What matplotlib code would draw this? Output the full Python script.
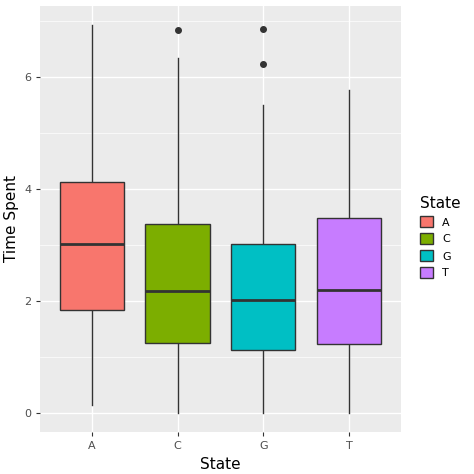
import matplotlib
matplotlib.use("Agg")
import matplotlib.pyplot as plt
from matplotlib.patches import Patch

states = ["A", "C", "G", "T"]
colors = ["#F8766D", "#7CAE00", "#00BFC4", "#C77CFF"]
whislo = [0.13, 0.0, 0.0, 0.0]
q1 = [1.84, 1.24, 1.12, 1.23]
med = [3.02, 2.17, 2.01, 2.20]
q3 = [4.12, 3.37, 3.02, 3.47]
whishi = [6.92, 6.33, 5.50, 5.76]
fliers = [[], [6.83], [6.85, 6.22], []]

fig = plt.figure(figsize=(4.74, 4.74), dpi=100)
ax = fig.add_axes([0.085, 0.088, 0.76, 0.90])
ax.set_facecolor("#EBEBEB")
stats = [dict(label=s, whislo=a, q1=b, med=c, q3=d, whishi=e, fliers=f)
         for s, a, b, c, d, e, f in zip(states, whislo, q1, med, q3, whishi, fliers)]
bp = ax.bxp(stats, positions=range(1, 5), widths=0.75, patch_artist=True, showcaps=False,
            boxprops=dict(linewidth=1.0, edgecolor="#333333"),
            whiskerprops=dict(color="#333333", linewidth=1.0),
            medianprops=dict(color="#333333", linewidth=2.0),
            flierprops=dict(marker="o", markerfacecolor="#333333", markeredgecolor="#333333", markersize=4))
for p, c in zip(bp["boxes"], colors):
    p.set_facecolor(c)
    p.set_zorder(3)
for k in ["whiskers", "medians", "fliers"]:
    for l in bp[k]:
        l.set_zorder(4 if k != "whiskers" else 2)
ax.set_xlim(0.4, 4.6)
ax.set_ylim(-0.35, 7.27)
ax.set_yticks([0, 2, 4, 6])
ax.set_yticks([1, 3, 5, 7], minor=True)
ax.grid(True, which="major", color="white", linewidth=1.0)
ax.grid(True, which="minor", axis="y", color="white", linewidth=0.5)
ax.set_axisbelow(True)
for s in ax.spines.values():
    s.set_visible(False)
ax.tick_params(colors="#333333", labelsize=8, length=3, labelcolor="#4D4D4D")
ax.tick_params(which="minor", length=0)
ax.set_xlabel("State", fontsize=11)
ax.set_ylabel("Time Spent", fontsize=11)
handles = [Patch(facecolor=c, edgecolor="#333333", label=s) for s, c in zip(states, colors)]
fig.legend(handles=handles, title="State", loc="center left", bbox_to_anchor=(0.865, 0.5),
           frameon=False, fontsize=8, title_fontsize=11, handlelength=1.2, handleheight=1.2,
           alignment="left")
fig.savefig("out.png", dpi=100)
